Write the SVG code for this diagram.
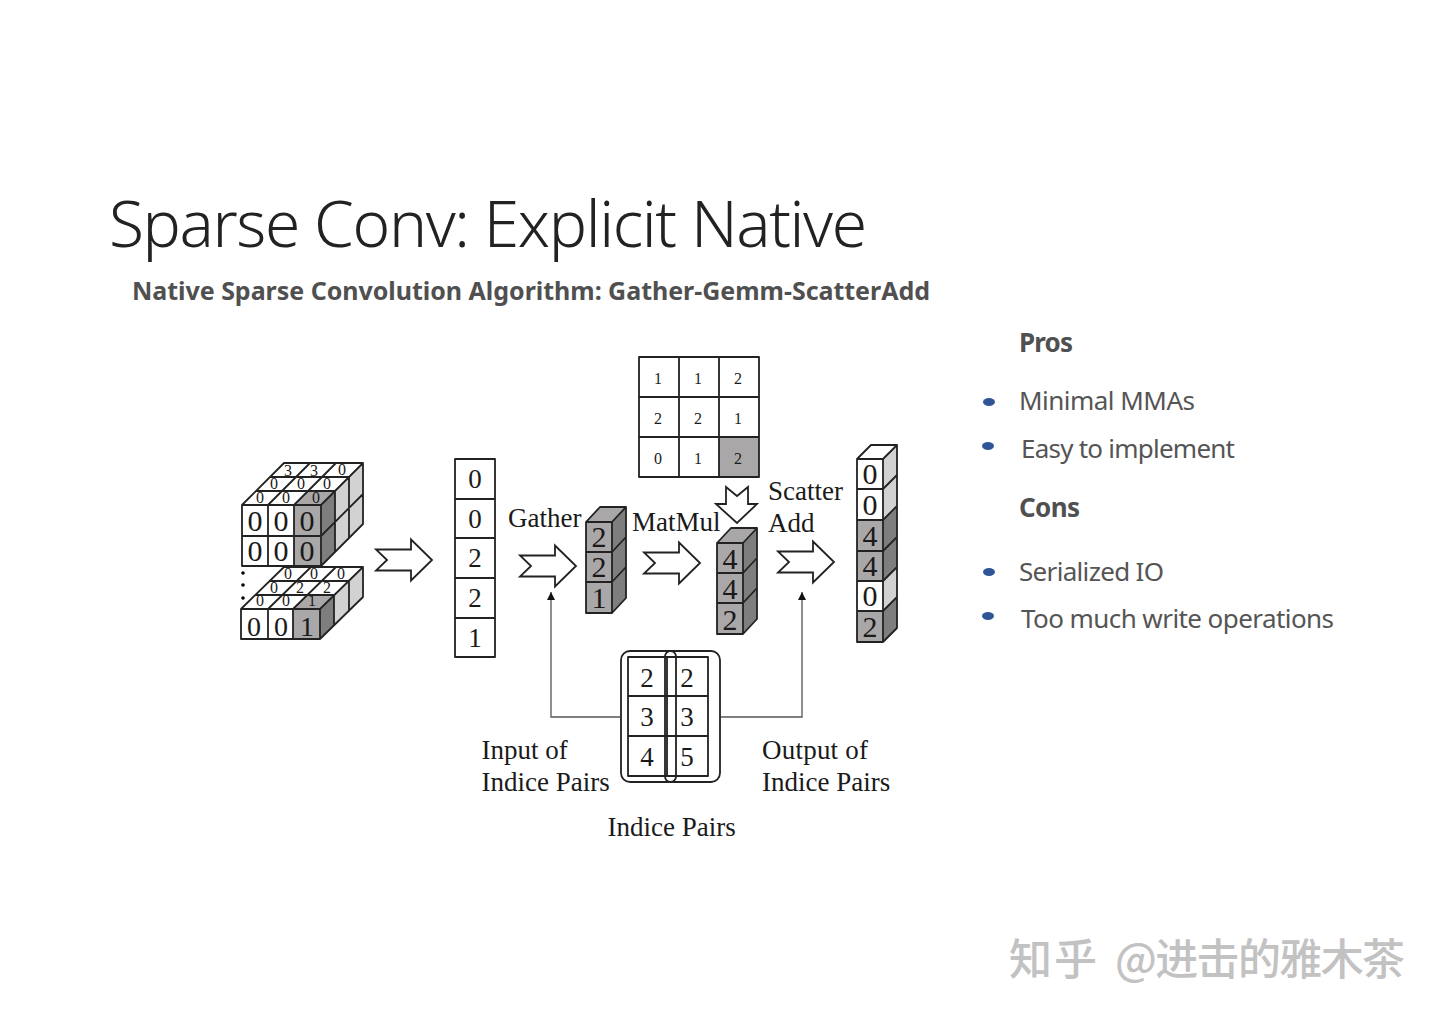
<svg xmlns="http://www.w3.org/2000/svg" width="1440" height="1018" viewBox="0 0 1440 1018">
<style>
.s{font-family:"Liberation Serif",serif;fill:#1a1a1a}
.c{text-anchor:middle}
.a{font-family:"Noto Sans","Open Sans",sans-serif;fill:#555}
.b{font-weight:700;fill:#505050}
.l{stroke:#222;stroke-width:1.8;stroke-linejoin:round;fill:none}
.w{fill:#fff}
.g{fill:#a9a7a7}
.d{fill:#7f7e7e}
.p{fill:#d2d2d2}
.ar{fill:#fff;stroke:#222;stroke-width:1.8;stroke-linejoin:miter}
.n{stroke:#555;stroke-width:1.3;fill:none}
.bu{fill:#2f5597}
.t{font-size:16px}
.m{font-size:30px}
.f{font-size:30px}
.lb{font-size:27px}
.wm{font-family:"Noto Sans CJK SC",sans-serif;font-size:43px;font-weight:500;fill:#c2c2c2}
</style>
<defs>
<marker id="h" markerWidth="9" markerHeight="9" refX="8" refY="4" orient="auto" markerUnits="userSpaceOnUse"><path d="M0 0L8 4L0 8Z" fill="#111"/></marker>
<path id="ba" class="ar" d="M0 -10.500H35V-20.500L56 0L35 20.500V10.500H0L11 0Z"/>
</defs>
<rect width="1440" height="1018" fill="#fff"/>
<g id="title">
<text x="109" y="247" class="a" font-size="64" font-weight="300" style="fill:#222" textLength="758">Sparse Conv: Explicit Native</text>
<text x="132" y="300" class="a b" font-size="25" textLength="798">Native Sparse Convolution Algorithm: Gather-Gemm-ScatterAdd</text>
</g>
<g id="connectors">
<path class="n" d="M620 717H551V592" marker-end="url(#h)"/>
<path class="n" d="M721 717H802V592" marker-end="url(#h)"/>
</g>
<g id="tensor-top">
<path class="w" d="M242 505H321L363 463H284Z"/>
<path class="g" d="M294 505H321L335 491H308Z"/>
<path class="p" d="M335 491L363 463V524L335 552Z"/>
<path class="d" d="M321 505L335 491V552L321 566Z"/>
<rect x="242" y="505" width="52" height="61" class="w"/>
<rect x="294" y="505" width="27" height="61" class="g"/>
<path class="l" d="M242 505H321V566H242ZM268 505V566M294 505V566M242 536H321M242 505L284 463H363L321 505M268 505L310 463M294 505L336 463M256 491H335M270 477H349M363 463V524L321 566M321 536L363 494M335 491V552M349 477V538"/>
<g class="s c t"><text x="288" y="476">3</text><text x="314" y="476">3</text><text x="342" y="475">0</text><text x="274" y="489">0</text><text x="301" y="489">0</text><text x="327" y="489">0</text><text x="260" y="503">0</text><text x="286" y="503">0</text><text x="316" y="503">0</text></g>
<g class="s c f"><text x="255" y="531">0</text><text x="281" y="531">0</text><text x="307" y="531">0</text><text x="255" y="561">0</text><text x="281" y="561">0</text><text x="307" y="561">0</text></g>
</g>
<g id="dots"><circle cx="243" cy="573" r="1.800"/><circle cx="243" cy="585" r="1.800"/><circle cx="243" cy="598" r="1.800"/></g>
<g id="tensor-bottom">
<path class="w" d="M241 609H320L363 567H284Z"/>
<path class="g" d="M293 609H320L334 595H307Z"/>
<path class="p" d="M334 595L363 567V597L334 625Z"/>
<path class="d" d="M320 609L334 595V625L320 639Z"/>
<rect x="241" y="609" width="52" height="30" class="w"/>
<rect x="293" y="609" width="27" height="30" class="g"/>
<path class="l" d="M241 609H320V639H241ZM268 609V639M293 609V639M241 609L284 567H363L320 609M268 609L311 567M293 609L336 567M255 595H334M269 581H349M363 567V597L320 639M334 595V625M349 581V611"/>
<g class="s c t"><text x="288" y="579">0</text><text x="314" y="579">0</text><text x="341" y="579">0</text><text x="274" y="593">0</text><text x="300" y="593">2</text><text x="327" y="593">2</text><text x="260" y="606">0</text><text x="286" y="606">0</text><text x="312" y="606">1</text></g>
<g class="s c" font-size="28"><text x="254" y="636">0</text><text x="281" y="636">0</text><text x="307" y="636">1</text></g>
</g>
<g id="arrow-1"><use href="#ba" x="376" y="560"/></g>
<g id="vector">
<rect x="455" y="459" width="40" height="198" class="w"/>
<path class="l" d="M455 459H495V657H455ZM455 499H495M455 538H495M455 578H495M455 618H495"/>
<g class="s c lb"><text x="475" y="488">0</text><text x="475" y="528">0</text><text x="475" y="567">2</text><text x="475" y="607">2</text><text x="475" y="647">1</text></g>
</g>
<g id="gather-label"><text x="508" y="527" class="s lb">Gather</text></g>
<g id="arrow-gather"><use href="#ba" x="520" y="566"/></g>
<g id="gather-column">
<path class="g" d="M586 522H612V613H586ZM586 522L600 507H626L612 522Z"/>
<path class="d" d="M612 522L626 507V598L612 613Z"/>
<path class="l" d="M586 522H612V613H586ZM586 552H612M586 582H612M586 522L600 507H626L612 522M626 507V598L612 613M612 552L626 537M612 582L626 567"/>
<g class="s c m"><text x="599" y="547">2</text><text x="599" y="577">2</text><text x="599" y="608">1</text></g>
</g>
<g id="matmul-label"><text x="632" y="531" class="s lb">MatMul</text></g>
<g id="arrow-matmul"><use href="#ba" x="644" y="563"/></g>
<g id="matrix">
<rect x="719" y="437" width="40" height="40" class="g"/>
<path class="l" d="M639 357H759V477H639ZM679 357V477M719 357V477M639 397H759M639 437H759"/>
<g class="s c" font-size="16"><text x="658" y="384">1</text><text x="698" y="384">1</text><text x="738" y="384">2</text><text x="658" y="424">2</text><text x="698" y="424">2</text><text x="738" y="424">1</text><text x="658" y="464">0</text><text x="698" y="464">1</text><text x="738" y="464">2</text></g>
</g>
<g id="arrow-down"><path class="ar" d="M726 487L737 496L748 487V504H757L737 523L716 504H726Z"/></g>
<g id="matmul-column">
<path class="g" d="M717 543H743V634H717ZM717 543L731 528H757L743 543Z"/>
<path class="d" d="M743 543L757 528V619L743 634Z"/>
<path class="l" d="M717 543H743V634H717ZM717 573H743M717 603H743M717 543L731 528H757L743 543M757 528V619L743 634M743 573L757 558M743 603L757 588"/>
<g class="s c m"><text x="730" y="569">4</text><text x="730" y="599">4</text><text x="730" y="630">2</text></g>
</g>
<g id="scatter-label"><text x="768" y="500" class="s lb">Scatter</text><text x="768" y="532" class="s lb">Add</text></g>
<g id="arrow-scatter"><use href="#ba" x="778" y="562"/></g>
<g id="output-column">
<path class="w" d="M857 459H883L897 445H871Z"/>
<path class="w" d="M857 459H883V520H857ZM857 581H883V611H857Z"/>
<path class="g" d="M857 520H883V581H857ZM857 611H883V642H857Z"/>
<path class="p" d="M883 459L897 445V506L883 520ZM883 581L897 567V597L883 611Z"/>
<path class="d" d="M883 520L897 506V567L883 581ZM883 611L897 597V628L883 642Z"/>
<path class="l" d="M857 459H883V642H857ZM857 489H883M857 520H883M857 551H883M857 581H883M857 611H883M857 459L871 445H897L883 459M897 445V628L883 642M883 489L897 475M883 520L897 506M883 551L897 537M883 581L897 567M883 611L897 597"/>
<g class="s c m"><text x="870" y="484">0</text><text x="870" y="515">0</text><text x="870" y="546">4</text><text x="870" y="576">4</text><text x="870" y="606">0</text><text x="870" y="637">2</text></g>
</g>
<g id="indice-pairs">
<rect x="621" y="651" width="99" height="131" rx="9" class="w" stroke="#222" stroke-width="1.800"/>
<path class="l" d="M628 657H708V776H628ZM667 657V776M628 696H708M628 736H708"/>
<rect x="665" y="651" width="11" height="131" rx="5.500" class="l"/>
<g class="s c lb"><text x="647" y="687">2</text><text x="687" y="687">2</text><text x="647" y="726">3</text><text x="687" y="726">3</text><text x="647" y="766">4</text><text x="687" y="766">5</text></g>
</g>
<g id="labels-indice" class="s lb">
<text x="481.500" y="759">Input of</text><text x="481.500" y="791">Indice Pairs</text>
<text x="762" y="759" textLength="106">Output of</text><text x="762" y="791">Indice Pairs</text>
<text x="607.500" y="836">Indice Pairs</text>
</g>
<g id="pros-cons" font-size="26">
<text x="1019" y="352" class="a b" textLength="54">Pros</text>
<ellipse cx="989" cy="402" rx="6" ry="4" class="bu"/><text x="1019" y="410" class="a" textLength="176">Minimal MMAs</text>
<ellipse cx="988" cy="446" rx="6" ry="4" class="bu"/><text x="1021" y="458" class="a" textLength="214">Easy to implement</text>
<text x="1019" y="517" class="a b" textLength="61">Cons</text>
<ellipse cx="989" cy="572" rx="6" ry="4" class="bu"/><text x="1019" y="581" class="a" textLength="145">Serialized IO</text>
<ellipse cx="988" cy="616" rx="6" ry="4" class="bu"/><text x="1021" y="628" class="a" textLength="313">Too much write operations</text>
</g>
<g id="watermark"><text x="1009" y="975" class="wm" textLength="88">知乎</text><text x="1115" y="975" class="wm" textLength="290">@进击的雅木茶</text></g>
</svg>
